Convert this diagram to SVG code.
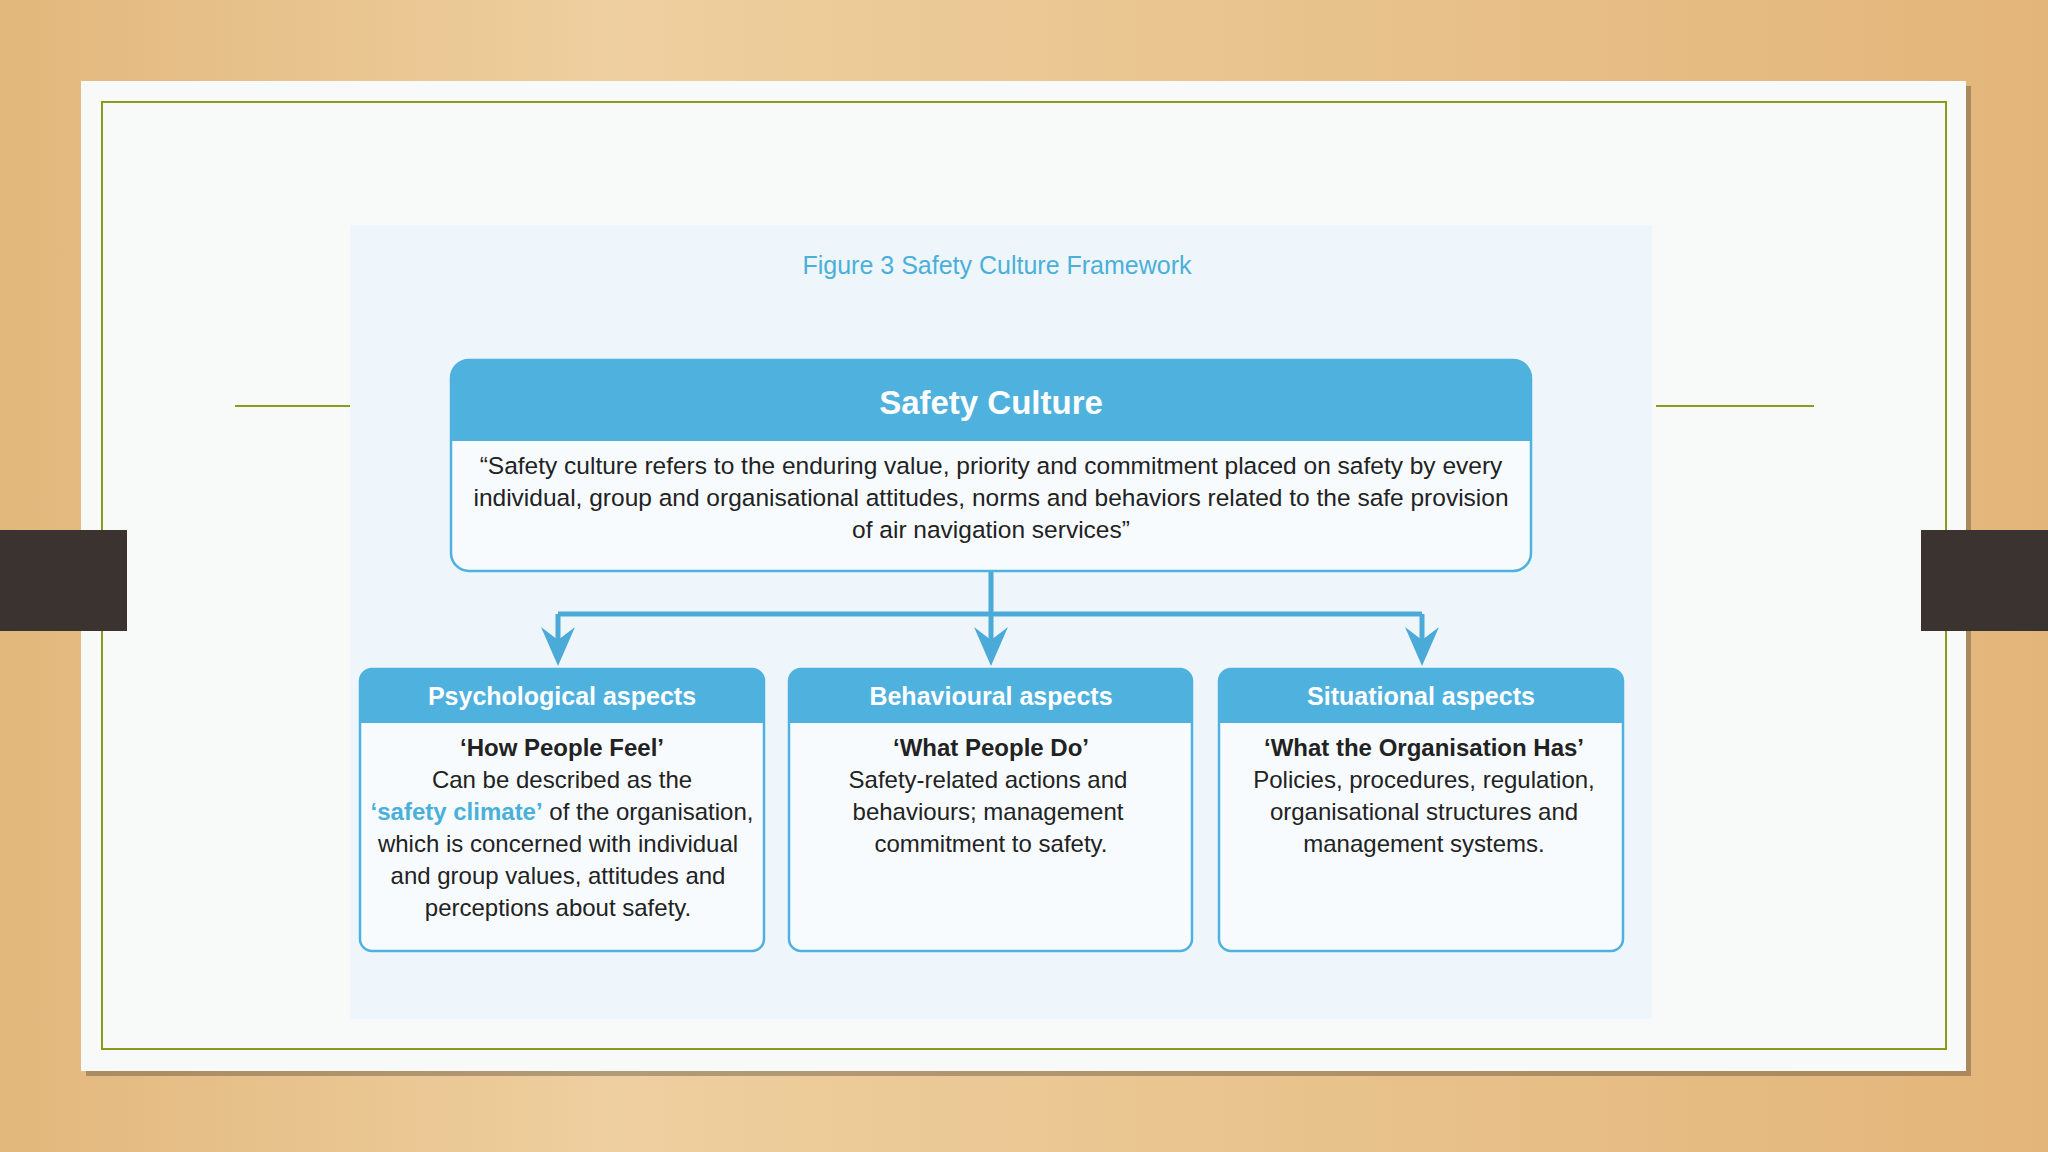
<svg xmlns="http://www.w3.org/2000/svg" width="2048" height="1152" viewBox="0 0 2048 1152">
<defs>
<linearGradient id="wood" x1="0" y1="0" x2="1" y2="0">
<stop offset="0" stop-color="#e2b77c"/><stop offset="0.3" stop-color="#eecf9f"/><stop offset="0.6" stop-color="#e9c48e"/><stop offset="1" stop-color="#e3b57a"/>
</linearGradient>
<style>
.t{font-family:"Liberation Sans",Arial,sans-serif;text-anchor:middle}
.hd{fill:#4fb1de}
.bx{fill:#f7fbfe;stroke:#4fb1de;stroke-width:2.5}
.ht{fill:#fff;font-weight:bold;font-size:25px}
.bt{fill:#222;font-size:24px}
.b{font-weight:bold}
.c{stroke:#4aabd8;stroke-width:5;fill:none}
</style>
</defs>
<rect width="2048" height="1152" fill="url(#wood)"/>
<rect x="86" y="86" width="1885" height="990" fill="#000" opacity="0.25"/>
<rect x="81" y="81" width="1885" height="990" fill="#f8f9f9"/>
<rect x="102" y="102" width="1844" height="947" fill="none" stroke="#8a9a1c" stroke-width="2"/>
<rect x="0" y="530" width="127" height="101" fill="#3a3330"/>
<rect x="1921" y="530" width="127" height="101" fill="#3a3330"/>
<line x1="235" y1="406" x2="350" y2="406" stroke="#8a9a1c" stroke-width="2"/>
<line x1="1656" y1="406" x2="1814" y2="406" stroke="#8a9a1c" stroke-width="2"/>
<rect x="350" y="225" width="1302" height="794" fill="#eef6fb"/>
<text class="t" x="997" y="274" font-size="25" fill="#4ab0d9">Figure 3 Safety Culture Framework</text>
<g id="connectors">
<path class="c" d="M991,571 V650"/>
<path class="c" d="M558,614 H1422"/>
<path class="c" d="M558,614 V650"/>
<path class="c" d="M1422,614 V650"/>
<path d="M541,627 L558,640 L575,627 L558,666 Z" fill="#4aabd8"/>
<path d="M974,627 L991,640 L1008,627 L991,666 Z" fill="#4aabd8"/>
<path d="M1405,627 L1422,640 L1439,627 L1422,666 Z" fill="#4aabd8"/>
</g>
<g id="safety-culture">
<rect class="bx" x="451" y="360" width="1080" height="211" rx="18"/>
<path class="hd" d="M451,441 V378 Q451,360 469,360 H1513 Q1531,360 1531,378 V441 Z"/>
<text class="t ht" x="991" y="414" style="font-size:33px">Safety Culture</text>
<text class="t bt" x="991" y="474" style="font-size:24.5px">“Safety culture refers to the enduring value, priority and commitment placed on safety by every</text>
<text class="t bt" x="991" y="506" style="font-size:24.5px">individual, group and organisational attitudes, norms and behaviors related to the safe provision</text>
<text class="t bt" x="991" y="538" style="font-size:24.5px">of air navigation services”</text>
</g>
<g id="psychological">
<rect class="bx" x="360" y="669" width="404" height="282" rx="12"/>
<path class="hd" d="M360,723 V681 Q360,669 372,669 H752 Q764,669 764,681 V723 Z"/>
<text class="t ht" x="562" y="705">Psychological aspects</text>
<text class="t bt b" x="562" y="756">‘How People Feel’</text>
<text class="t bt" x="562" y="788">Can be described as the</text>
<text class="t bt" x="562" y="820"><tspan fill="#4ab0d9" font-weight="bold">‘safety climate’</tspan> of the organisation,</text>
<text class="t bt" x="558" y="852">which is concerned with individual</text>
<text class="t bt" x="558" y="884">and group values, attitudes and</text>
<text class="t bt" x="558" y="916">perceptions about safety.</text>
</g>
<g id="behavioural">
<rect class="bx" x="789" y="669" width="403" height="282" rx="12"/>
<path class="hd" d="M789,723 V681 Q789,669 801,669 H1180 Q1192,669 1192,681 V723 Z"/>
<text class="t ht" x="991" y="705">Behavioural aspects</text>
<text class="t bt b" x="991" y="756">‘What People Do’</text>
<text class="t bt" x="988" y="788">Safety-related actions and</text>
<text class="t bt" x="988" y="820">behaviours; management</text>
<text class="t bt" x="991" y="852">commitment to safety.</text>
</g>
<g id="situational">
<rect class="bx" x="1219" y="669" width="404" height="282" rx="12"/>
<path class="hd" d="M1219,723 V681 Q1219,669 1231,669 H1611 Q1623,669 1623,681 V723 Z"/>
<text class="t ht" x="1421" y="705">Situational aspects</text>
<text class="t bt b" x="1424" y="756">‘What the Organisation Has’</text>
<text class="t bt" x="1424" y="788">Policies, procedures, regulation,</text>
<text class="t bt" x="1424" y="820">organisational structures and</text>
<text class="t bt" x="1424" y="852">management systems.</text>
</g>
</svg>
